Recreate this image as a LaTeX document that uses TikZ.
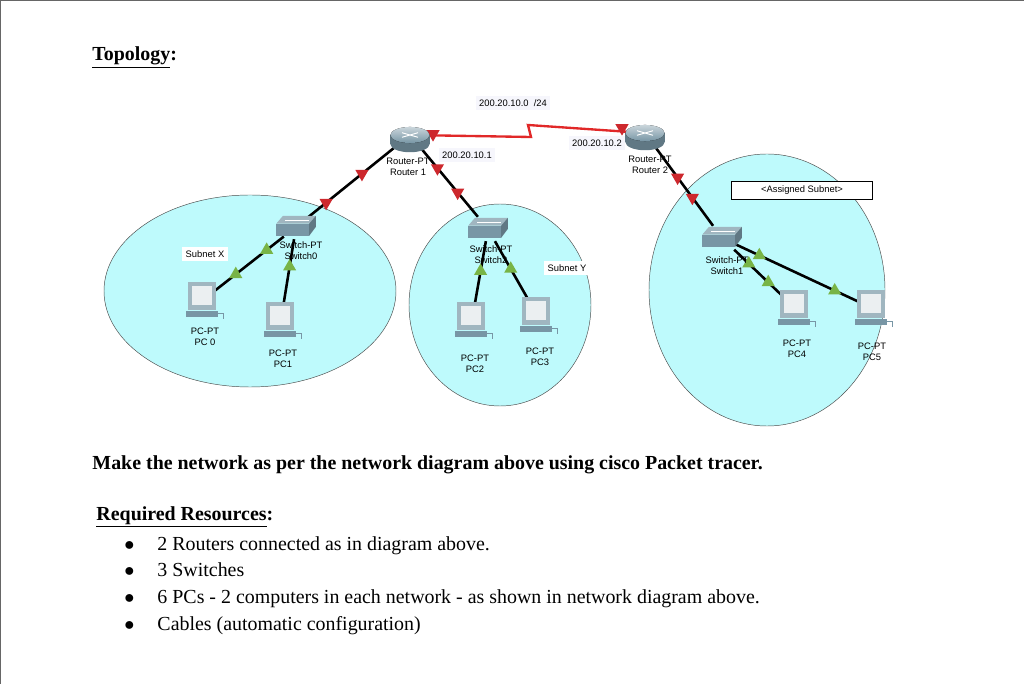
\documentclass[tikz,border=0pt]{standalone}
\usepackage{fontspec}
\setmainfont{Liberation Serif}
\newfontfamily\labfont{Liberation Sans}
\usepackage{tikz}
\usetikzlibrary{shapes.geometric}
\usetikzlibrary{arrows.meta}
\definecolor{subnetcyan}{RGB}{190,250,252}
\definecolor{linkred}{RGB}{225,40,40}
\definecolor{tipred}{RGB}{205,40,45}
\definecolor{tipgreen}{RGB}{120,180,70}
\definecolor{devgrey}{RGB}{120,150,165}
\definecolor{labback}{RGB}{246,246,252}

\newcommand{\routericon}[1]{%
  \begin{scope}[shift={(#1)},scale=1.15]
  \fill[devgrey!80!black] (-17,0) rectangle (17,8);
  \fill[devgrey!80!black] (0,8) ellipse [x radius=17, y radius=7];
  \fill[top color=devgrey!40, bottom color=devgrey] (0,0) ellipse [x radius=17, y radius=7];
  \draw[white,thick] (-7,-2) -- (7,2) (-7,2) -- (7,-2);
  \end{scope}}
\newcommand{\switchicon}[1]{%
  \begin{scope}[shift={(#1)},scale=1.1]
  \fill[devgrey!70] (-18,-3) -- (-12,-10) -- (18,-10) -- (18,-3) -- cycle;
  \fill[devgrey] (-18,-3) rectangle (12,8);
  \fill[devgrey!80!black] (12,8) -- (18,0) -- (18,-10) -- (12,-3) -- cycle;
  \draw[white] (-10,-6) -- (12,-6);
  \end{scope}}
\newcommand{\pcicon}[1]{%
  \begin{scope}[shift={(#1)},scale=1.25]
  \fill[devgrey!70] (-12,-14) rectangle (10,8);
  \fill[white!85!devgrey] (-9,-11) rectangle (7,4);
  \fill[devgrey] (-14,9) rectangle (12,14);
  \draw[devgrey] (12,11) -- (16,11) -- (16,15);
  \end{scope}}

\begin{document}
\begin{tikzpicture}[x=0.03cm,y=-0.03cm,thick,
    every node/.style={font=\labfont\fontsize{8}{9.5}\selectfont},
    dev/.style={inner sep=0pt,minimum size=20},
    lab/.style={align=center,inner sep=1pt},
    tag/.style={fill=labback,inner sep=3pt},
    cable/.style={line width=2.2pt,black},
    downtip/.style={regular polygon,regular polygon sides=3,shape border rotate=180,fill=tipred,inner sep=0pt,minimum size=13},
    uptip/.style={regular polygon,regular polygon sides=3,fill=tipgreen,inner sep=0pt,minimum size=13}]
\useasboundingbox (0,0) rectangle (1024,684);
\draw[very thin,black!60] (0,0) rectangle (1024,684);

% subnets
\fill[subnetcyan] (250,291) ellipse [x radius=146, y radius=96];
\draw[black!70,thin] (250,291) ellipse [x radius=146, y radius=96];
\fill[subnetcyan] (500,305) ellipse [x radius=91, y radius=101];
\draw[black!70,thin] (500,305) ellipse [x radius=91, y radius=101];
\fill[subnetcyan] (767,290) ellipse [x radius=118, y radius=136];
\draw[black!70,thin] (767,290) ellipse [x radius=118, y radius=136];

% devices
\node[dev] (r1) at (410,135) {};
\node[dev] (r2) at (645,133) {};
\node[dev] (s0) at (296,227) {};
\node[dev] (s2) at (488,229) {};
\node[dev] (s1) at (722,238) {};
\node[dev] (pc0) at (203,300) {};
\node[dev] (pc1) at (281,320) {};
\node[dev] (pc2) at (472,320) {};
\node[dev] (pc3) at (537,315) {};
\node[dev] (pc4) at (795,308) {};
\node[dev] (pc5) at (872,308) {};
\coordinate (zz1) at (531,137);
\coordinate (zz2) at (528,125);

% links
\draw[line width=2pt,linkred] (r1) -- (zz1) -- (zz2) -- (r2);
\node[downtip] at (433,134) {};
\node[downtip] at (622,128) {};
\path[cable]
  (r1) edge node[downtip,pos=0.4]{} node[downtip,pos=0.8]{} (s0)
       edge node[downtip,pos=0.3]{} node[downtip,pos=0.65]{} (s2)
  (r2) edge node[downtip,pos=0.4]{} node[downtip,pos=0.65]{} (s1)
  (s0) edge node[uptip,pos=0.25]{} node[uptip,pos=0.7]{} (pc0)
       edge node[uptip,pos=0.4]{} (pc1)
  (s2) edge node[uptip,pos=0.45]{} (pc2)
       edge node[uptip,pos=0.45]{} (pc3)
  (s1) edge node[uptip,pos=0.3]{} node[uptip,pos=0.7]{} (pc4)
       edge node[uptip,pos=0.2]{} node[uptip,pos=0.8]{} (pc5);

% icons
\routericon{r1}
\routericon{r2}
\switchicon{s0}
\switchicon{s2}
\switchicon{s1}
\foreach \p in {pc0,pc1,pc2,pc3,pc4,pc5} {\pcicon{\p}}

% labels
\node[lab] at (408,167) {Router-PT\\Router 1};
\node[lab] at (650,165) {Router-PT\\Router 2};
\node[lab] at (301,251) {Switch-PT\\Switch0};
\node[lab] at (491,255) {Switch-PT\\Switch2};
\node[lab] at (727,266) {Switch-PT\\Switch1};
\node[lab] at (205,337) {PC-PT\\PC 0};
\node[lab] at (283,359) {PC-PT\\PC1};
\node[lab] at (475,364) {PC-PT\\PC2};
\node[lab] at (540,357) {PC-PT\\PC3};
\node[lab] at (797,349) {PC-PT\\PC4};
\node[lab] at (872,352) {PC-PT\\PC5};
\node[tag] at (513,103) {200.20.10.0 \ /24};
\node[tag] at (467,155) {200.20.10.1};
\node[tag] at (597,143) {200.20.10.2};
\node[tag,fill=white] at (205,254) {Subnet X};
\node[tag,fill=white] at (567,268) {Subnet Y};
\node[draw,fill=white,thin,inner sep=4pt,minimum width=120] at (802,190) {<Assigned Subnet>};

% text
\begin{scope}[every node/.style={font=\fontsize{17}{19}\selectfont,anchor=base west,inner sep=0pt}]
\node at (92,61) {\textbf{\underline{Topology}:}};
\node at (92,470) {\textbf{Make the network as per the network diagram above using cisco Packet tracer.}};
\node at (96,520) {\textbf{\underline{Required Resources}:}};
\foreach \y/\t in {551/2 Routers connected as in diagram above.,
                   577/3 Switches,
                   604/6 PCs - 2 computers in each network - as shown in network diagram above.,
                   630/Cables (automatic configuration)} {
  \node at (124,\y) {$\bullet$};
  \node at (157,\y) {\t};
}
\end{scope}
\end{tikzpicture}
\end{document}
